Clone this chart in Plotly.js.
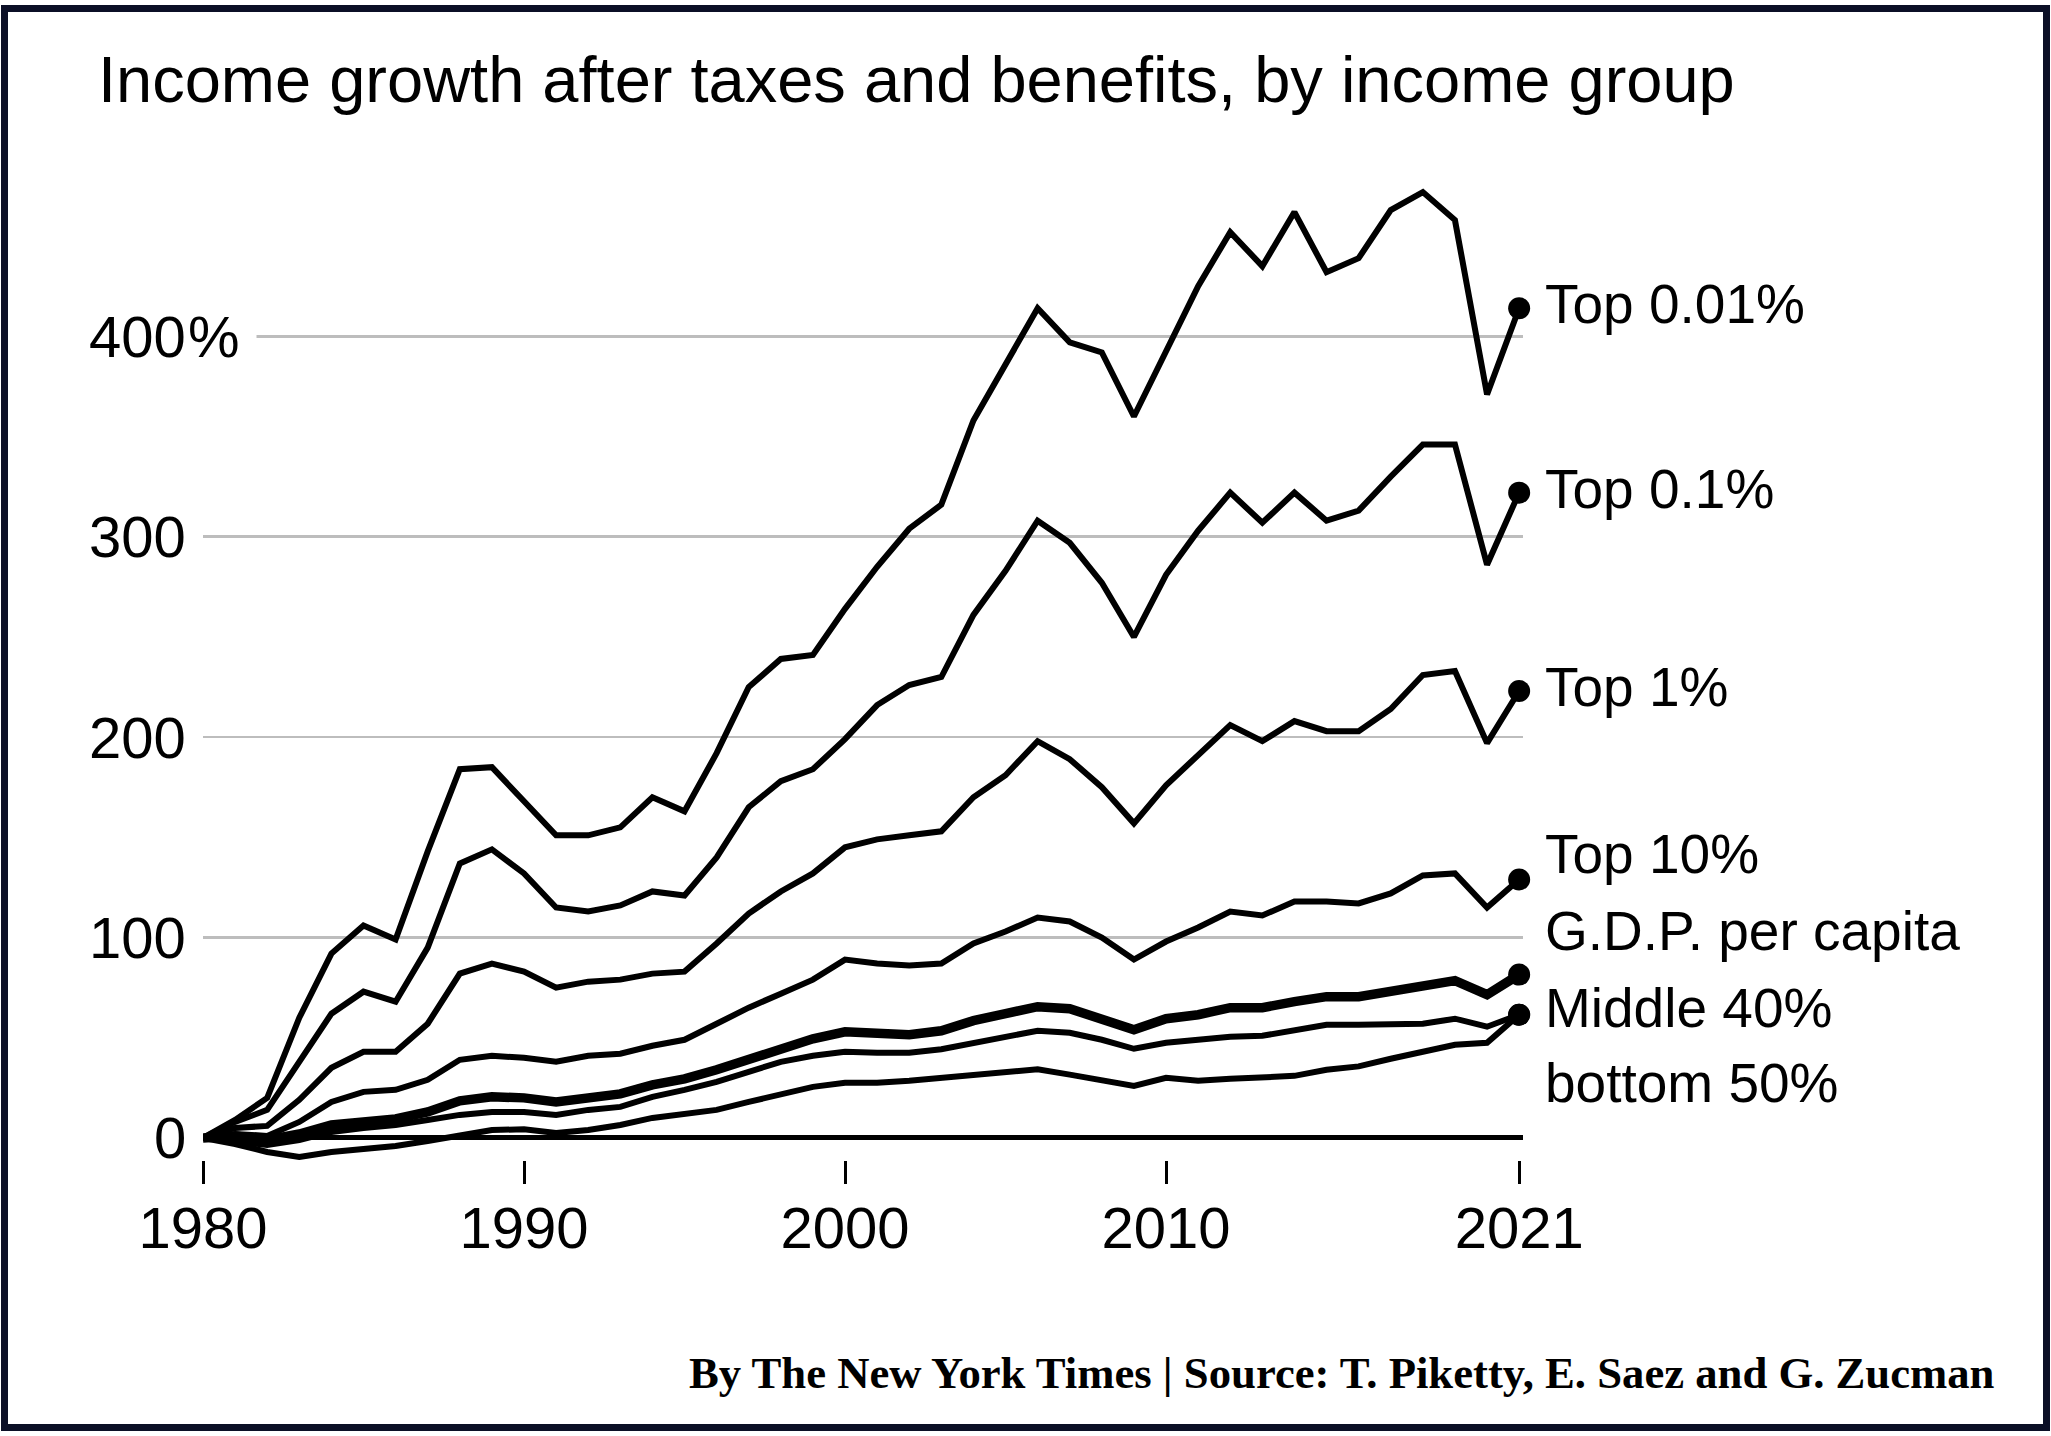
<!DOCTYPE html>
<html>
<head>
<meta charset="utf-8">
<script src="https://cdn.plot.ly/plotly-3.0.1.min.js"></script>
<style>
  html, body { margin: 0; padding: 0; background: #ffffff; }
  #chart { position: absolute; left: 0; top: 0; width: 2051px; height: 1436px; }
  #frame { position: absolute; left: 1px; top: 5px; width: 2049px; height: 1426px;
           border: 7px solid #0b0f26; box-sizing: border-box; pointer-events: none; }
</style>
</head>
<body>
<div id="chart"></div>
<div id="frame"></div>
<script>
// ---- data ----
const years = [1980,1981,1982,1983,1984,1985,1986,1987,1988,1989,
               1990,1991,1992,1993,1994,1995,1996,1997,1998,1999,
               2000,2001,2002,2003,2004,2005,2006,2007,2008,2009,
               2010,2011,2012,2013,2014,2015,2016,2017,2018,2019,
               2020,2021];

const top001 = [0, 9, 20, 60, 92, 106, 99, 143, 184, 185,
                168, 151, 151, 155, 170, 163, 192, 225, 239, 241,
                264, 285, 304, 316, 358, 386, 414, 397, 392, 360,
                393, 425, 452, 435, 462, 432, 439, 463, 472, 458,
                371, 414];

const top01 = [0, 8, 14, 38, 62, 73, 68, 95, 137, 144,
               132, 115, 113, 116, 123, 121, 140, 165, 178, 184,
               199, 216, 226, 230, 261, 283, 308, 297, 277, 250,
               281, 303, 322, 307, 322, 308, 313, 330, 346, 346,
               286, 322];

const top1 = [0, 5, 6, 19, 35, 43, 43, 57, 82, 87,
              83, 75, 78, 79, 82, 83, 97, 112, 123, 132,
              145, 149, 151, 153, 170, 181, 198, 189, 175, 157,
              176, 191, 206, 198, 208, 203, 203, 214, 231, 233,
              197, 223];

const top10 = [0, 2, 1, 8, 18, 23, 24, 29, 39, 41,
               40, 38, 41, 42, 46, 49, 57, 65, 72, 79,
               89, 87, 86, 87, 97, 103, 110, 108, 100, 89,
               98, 105, 113, 111, 118, 118, 117, 122, 131, 132,
               115, 129];

const gdpPerCapita = [0, 1, -1, 2, 6.5, 8, 9.5, 13, 18.5, 20.5,
                      20, 18, 20.5, 22, 26.5, 29.5, 34, 39.5, 45, 49.5,
                      53, 52.5, 51.5, 53.5, 58.5, 62, 65.5, 64.5, 59.5, 54,
                      59.5, 61.5, 65, 65, 68, 70.5, 70.5, 73, 76.5, 78.5,
                      71.5, 81.5];

const middle40 = [0, -1.5, -3.5, -1, 3, 5, 6.5, 9, 11.5, 13,
                  13, 11.5, 14, 15.5, 20.5, 24, 28, 33, 38, 41,
                  43, 42.5, 42.5, 44.3, 47.5, 51, 53.5, 52.5, 49, 44.5,
                  47.5, 49, 50.5, 51, 54, 56.5, 56.5, 57, 57, 59.5,
                  55.5, 61.5];

const bottom50 = [0, -3, -7, -9.5, -7, -5.5, -4, -1.5, 1.5, 4,
                  4.3, 2.5, 4, 6.5, 10, 12.3, 14, 18, 22, 25.5,
                  27.5, 27.5, 28.5, 30, 31.3, 32.5, 34.3, 31.6, 29, 26,
                  30, 28.5, 29.5, 30, 31, 34, 35.7, 39.5, 42.7, 46.5,
                  47.5, 61.5];

const seriesNames = ["Top 0.01%", "Top 0.1%", "Top 1%", "Top 10%",
                     "G.D.P. per capita", "Middle 40%", "bottom 50%"];
const seriesValues = [top001, top01, top1, top10, gdpPerCapita, middle40, bottom50];

const xTickVals = [1980, 1990, 2000, 2010, 2021];
const xTickText = ["1980", "1990", "2000", "2010", "2021"];
const yTickVals = [0, 100, 200, 300, 400];
const yTickText = ["0", "100", "200", "300", "400"];
const yTopSuffix = "%";

const titleText = "Income growth after taxes and benefits, by income group";
const footerText = "By The New York Times | Source: T. Piketty, E. Saez and G. Zucman";

// ---- styles ----
const SANS = "Liberation Sans, Arial, Helvetica, sans-serif";
const SERIF = "Liberation Serif, Times New Roman, serif";
const lineWidths = [6, 6, 6, 6, 9.5, 6, 6];
const labelYShift = [4, 4, 4, 25, 44, 7, -68];

// ---- traces ----
const traces = seriesValues.map((vals, i) => ({
  type: "scatter",
  mode: "lines",
  x: years,
  y: vals,
  name: seriesNames[i],
  line: { color: "#000000", width: lineWidths[i] },
  cliponaxis: false,
  hoverinfo: "skip"
}));

const lastIdx = years.length - 1;
traces.push({
  type: "scatter",
  mode: "markers",
  x: seriesValues.map(() => years[lastIdx]),
  y: seriesValues.map(v => v[lastIdx]),
  marker: { color: "#000000", size: 22 },
  cliponaxis: false,
  hoverinfo: "skip",
  showlegend: false
});

// ---- annotations ----
const annotations = [];
yTickVals.forEach((v, i) => {
  annotations.push({
    xref: "x", yref: "y", x: years[0], y: v,
    text: yTickText[i], showarrow: false,
    xanchor: "right", yanchor: "middle", xshift: -15,
    font: { family: SANS, size: 58, color: "#000000" }
  });
});
annotations.push({
  xref: "x", yref: "y", x: years[0], y: yTickVals[yTickVals.length - 1],
  text: yTopSuffix + "\u00a0", showarrow: false,
  xanchor: "left", yanchor: "middle", xshift: -16,
  bgcolor: "#ffffff", borderpad: 0,
  font: { family: SANS, size: 58, color: "#000000" }
});

seriesNames.forEach((name, i) => {
  annotations.push({
    xref: "x", yref: "y", x: years[lastIdx], y: seriesValues[i][lastIdx],
    text: name, showarrow: false,
    xanchor: "left", yanchor: "middle", xshift: 24, yshift: labelYShift[i],
    font: { family: SANS, size: 55, color: "#000000" }
  });
});

annotations.push({
  xref: "paper", yref: "paper", x: 1.359, y: -0.2164,
  text: footerText, showarrow: false,
  xanchor: "right", yanchor: "middle",
  font: { family: SERIF, size: 44.7, color: "#000000", weight: "bold" }
});

const layout = {
  width: 2051,
  height: 1436,
  margin: { l: 203, r: 528, t: 176, b: 276, pad: 0 },
  paper_bgcolor: "#ffffff",
  plot_bgcolor: "#ffffff",
  showlegend: false,
  title: {
    text: titleText,
    xref: "container", yref: "container",
    x: 98 / 2051, xanchor: "left",
    y: 1 - 79 / 1436, yanchor: "middle",
    font: { family: SANS, size: 65, color: "#000000" }
  },
  xaxis: {
    range: [1980, 2021.12],
    tickmode: "array",
    tickvals: xTickVals,
    ticktext: xTickText,
    ticks: "outside",
    ticklen: 23,
    tickwidth: 3,
    tickcolor: "#000000",
    ticklabelstandoff: -6,
    showgrid: false,
    zeroline: false,
    showline: false,
    tickfont: { family: SANS, size: 58, color: "#000000" },
    fixedrange: true
  },
  yaxis: {
    range: [-11, 480],
    tickmode: "array",
    tickvals: yTickVals,
    showticklabels: false,
    ticks: "",
    showgrid: true,
    gridcolor: "#bdbdbd",
    gridwidth: 2.5,
    zeroline: true,
    zerolinecolor: "#000000",
    zerolinewidth: 5,
    showline: false,
    fixedrange: true
  },
  annotations: annotations
};

Plotly.newPlot("chart", traces, layout, { displayModeBar: false, staticPlot: true });
</script>
</body>
</html>
